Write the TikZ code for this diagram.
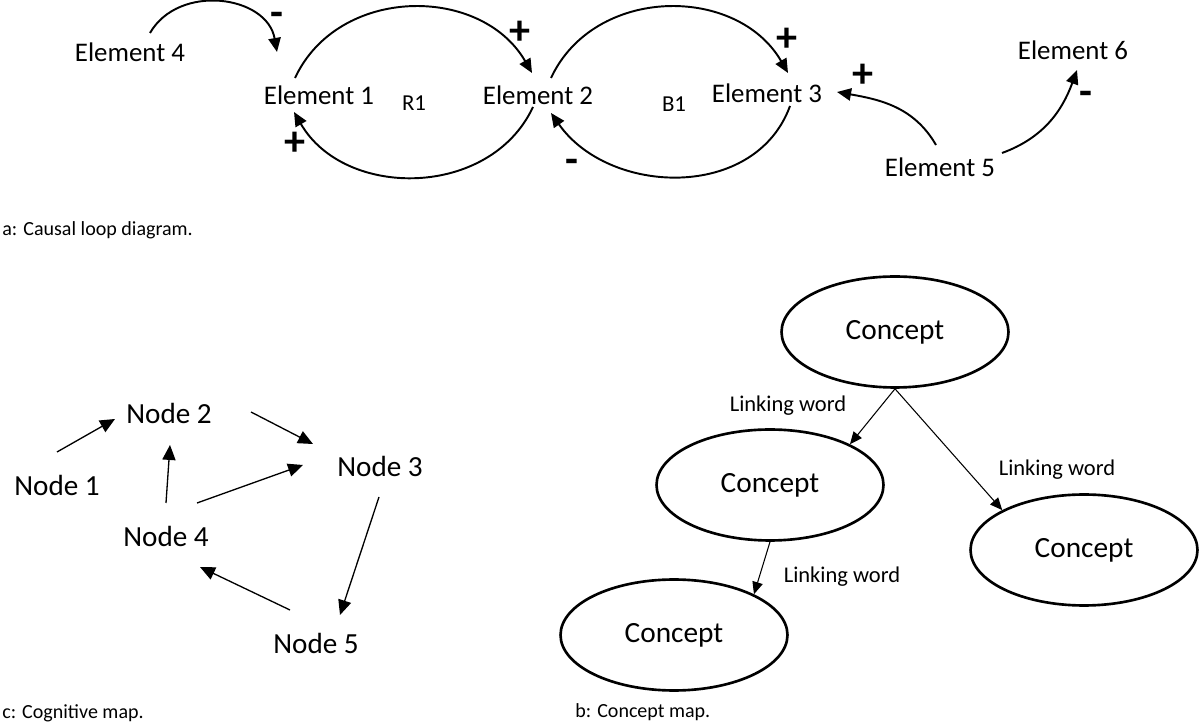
\documentclass[tikz,border=0pt]{standalone}
\usepackage{fontspec}
\setmainfont{Carlito}
\usetikzlibrary{arrows.meta, shapes.geometric}

\begin{document}
\begin{tikzpicture}[x=0.02cm, y=0.02cm,
  elem/.style={font=\fontsize{15.3}{18}\selectfont, inner sep=0pt},
  looplbl/.style={font=\fontsize{13}{15}\selectfont, inner sep=0pt},
  sign/.style={font=\fontsize{24}{26}\selectfont\bfseries, inner sep=0pt},
  cmnode/.style={font=\fontsize{16.6}{19}\selectfont, inner sep=0pt},
  concept/.style={ellipse, draw, line width=1.5pt, minimum width=4.54cm, minimum height=2.22cm, inner sep=0pt, font=\fontsize{16.7}{19}\selectfont},
  linkword/.style={font=\fontsize{12.8}{15}\selectfont, inner sep=0pt},
  caption/.style={font=\fontsize{11.4}{13}\selectfont, anchor=west, inner sep=0pt},
  cla/.style={line width=1.1pt, -{Triangle[length=8pt, width=7pt]}},
  cga/.style={line width=0.75pt, -{Triangle[length=8.5pt, width=7.5pt]}},
  cpa/.style={line width=0.6pt, -{Triangle[length=7pt, width=6pt]}}]
  \useasboundingbox (0,0) rectangle (1200,727);

  % a: causal loop diagram
  \node[elem] (e4) at (130,675) {Element 4};
  \node[elem] (e1) at (319,632) {Element 1};
  \node[elem] (e2) at (538,632) {Element 2};
  \node[elem] (e3) at (767,634) {Element 3};
  \node[elem] (e5) at (940,560) {Element 5};
  \node[elem] (e6) at (1073,677) {Element 6};
  \node[looplbl] (r1) at (414,624) {R1};
  \node[looplbl] (b1) at (674,623) {B1};

  \node[sign] (s1) at (277,708) {-};
  \node[sign] (s2) at (520,694) {+};
  \node[sign] (s3) at (295,583) {+};
  \node[sign] (s4) at (572,561) {-};
  \node[sign] (s5) at (787,687) {+};
  \node[sign] (s6) at (863,651) {+};
  \node[sign] (s7) at (1086,629) {-};

  \draw[cla] ([shift={(20,19)}]e4.center) to[out=60, in=100, looseness=1.15] ([shift={(-42,43)}]e1.center);
  \draw[cla] ([shift={(-24,17)}]e1.center) to[out=65, in=120, looseness=1.1] ([shift={(-6,22)}]e2.center);
  \draw[cla] ([shift={(-5,-12)}]e2.center) to[out=-115, in=-60, looseness=1.08] ([shift={(-25,-17)}]e1.center);
  \draw[cla] ([shift={(13,17)}]e2.center) to[out=65, in=120, looseness=1.1] ([shift={(21,20)}]e3.center);
  \draw[cla] ([shift={(23,-13)}]e3.center) to[out=-110, in=-55, looseness=1.08] ([shift={(13,-18)}]e2.center);
  \draw[cla] ([shift={(-4,22)}]e5.center) to[out=120, in=-10] ([shift={(70,1)}]e3.center);
  \draw[cla] ([shift={(62,14)}]e5.center) to[out=20, in=-110] ([shift={(4,-20)}]e6.center);

  \node[caption] (capa) at (2,497) {a: Causal loop diagram.};

  % c: cognitive map
  \node[cmnode] (n1) at (57,242) {Node 1};
  \node[cmnode] (n2) at (169,314) {Node 2};
  \node[cmnode] (n3) at (380,261) {Node 3};
  \node[cmnode] (n4) at (166,191) {Node 4};
  \node[cmnode] (n5) at (316,84) {Node 5};

  \draw[cga] ([shift={(0,33)}]n1.center) -- ([shift={(-54,-6)}]n2.center);
  \draw[cga] ([shift={(0,33)}]n4.center) -- ([shift={(1,-32)}]n2.center);
  \draw[cga] ([shift={(82,1)}]n2.center) -- ([shift={(-67,22)}]n3.center);
  \draw[cga] ([shift={(31,33)}]n4.center) -- ([shift={(-77,1)}]n3.center);
  \draw[cga] ([shift={(-1,-31)}]n3.center) -- ([shift={(24,28)}]n5.center);
  \draw[cga] ([shift={(-26,33)}]n5.center) -- ([shift={(34,-31)}]n4.center);

  \node[caption] (capc) at (2,14) {c: Cognitive map.};

  % b: concept map
  \node[concept] (ctop) at (895,395) {Concept};
  \node[concept] (cmid) at (770,242) {Concept};
  \node[concept] (cright) at (1084,177) {Concept};
  \node[concept] (cbot) at (674,92) {Concept};

  \node[linkword] (lw1) at (788,321) {Linking word};
  \node[linkword] (lw2) at (1057,257) {Linking word};
  \node[linkword] (lw3) at (842,150) {Linking word};

  \draw[cpa] (ctop.south) -- (cmid.27);
  \draw[cpa] (ctop.south) -- (cright.154);
  \draw[cpa] (cmid.south) -- (cbot.27);

  \node[caption] (capb) at (575,15) {b: Concept map.};
\end{tikzpicture}
\end{document}
